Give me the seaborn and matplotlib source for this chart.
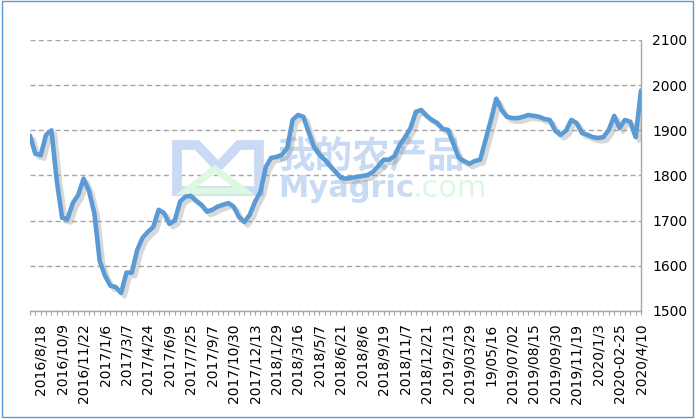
import pandas as pd
import seaborn as sns
import matplotlib.pyplot as plt
from matplotlib import patheffects as pe
from matplotlib.patches import Polygon, Rectangle
from matplotlib.ticker import MultipleLocator

# tick labels (one every 4 points)
dates = ['2016/8/18', '2016/10/9', '2016/11/22', '2017/1/6', '2017/3/7', '2017/4/24',
         '2017/6/9', '2017/7/25', '2017/9/7', '2017/10/30', '2017/12/13', '2018/1/29',
         '2018/3/16', '2018/5/7', '2018/6/21', '2018/8/6', '2018/9/19', '2018/11/7',
         '2018/12/21', '2019/2/13', '2019/03/29', '19/05/16', '2019/07/02', '2019/08/15',
         '2019/09/30', '2019/11/19', '2020/1/3', '2020-02-25', '2020/4/10']

# price series
price = [1888, 1848, 1845, 1890, 1900, 1788, 1706, 1704, 1739, 1757,
         1793, 1766, 1717, 1611, 1578, 1556, 1553, 1540, 1585, 1585,
         1635, 1662, 1675, 1686, 1724, 1717, 1693, 1700, 1742, 1753,
         1755, 1744, 1735, 1720, 1724, 1731, 1735, 1739, 1731, 1708,
         1697, 1713, 1742, 1764, 1819, 1839, 1841, 1846, 1861, 1923,
         1934, 1930, 1896, 1863, 1846, 1835, 1821, 1808, 1795, 1793,
         1795, 1797, 1799, 1801, 1808, 1821, 1835, 1835, 1843, 1868,
         1885, 1905, 1941, 1945, 1932, 1923, 1916, 1903, 1901, 1870,
         1839, 1832, 1826, 1832, 1835, 1879, 1923, 1970, 1945, 1930,
         1927, 1927, 1930, 1934, 1932, 1930, 1925, 1923, 1899, 1890,
         1899, 1923, 1916, 1894, 1890, 1885, 1883, 1885, 1901, 1932,
         1905, 1923, 1919, 1885, 1988]

df = pd.DataFrame({'idx': range(len(price)), 'price': price})

sns.set_theme(style='white')
plt.rcParams['font.family'] = ['DejaVu Sans', 'Noto Sans CJK SC']

W, H = 696, 419
fig = plt.figure(figsize=(W / 100, H / 100), dpi=100)
ax = fig.add_axes([30 / W, 1 - 311 / H, 611 / W, 271 / H])

sns.lineplot(data=df, x='idx', y='price', ax=ax, color='#5B9BD5', linewidth=3.3, zorder=3)
ax.lines[0].set_path_effects([
    pe.SimpleLineShadow(offset=(2.5, -2.5), shadow_color='#808080', alpha=0.3),
    pe.Normal()])

ax.set_xlim(0, len(price) - 1)
ax.set_ylim(1500, 2100)
ax.set_xticks(range(2, len(price), 4))
ax.set_xticklabels(dates, rotation=90)
ax.xaxis.set_minor_locator(MultipleLocator(1))
ax.tick_params(axis='x', which='both', direction='out', length=3, width=0.8,
               color='#A6A6A6', bottom=True)
ax.tick_params(axis='x', which='major', pad=6, labelsize=10, labelcolor='black')

ax.yaxis.tick_right()
ax.set_yticks(range(1500, 2101, 100))
ax.tick_params(axis='y', length=0, pad=8, labelsize=10, labelcolor='black')

ax.grid(axis='y', linestyle=(0, (3.6, 2.4)), color='#A6A6A6', linewidth=1)
ax.set_axisbelow(True)
for s in ['top', 'left']:
    ax.spines[s].set_visible(False)
for s in ['bottom', 'right']:
    ax.spines[s].set_color('#A6A6A6')
    ax.spines[s].set_linewidth(1)
ax.set_xlabel('')
ax.set_ylabel('')


# watermark (pixel -> figure fraction)
def fp(x, y):
    return (x / W, 1 - y / H)


logo = Polygon([fp(177, 145), fp(197, 145), fp(218, 167), fp(239, 145), fp(259, 145),
                fp(259, 191), fp(177, 191)], closed=True, fill=False,
               edgecolor='#C9DAF4', linewidth=7, transform=fig.transFigure, zorder=1)
roof = Polygon([fp(186, 191), fp(215, 169), fp(244, 191)], closed=True, fill=False,
               edgecolor='#DDF8E0', linewidth=5, transform=fig.transFigure, zorder=1)
ax.add_patch(logo)
ax.add_patch(roof)
ax.text(*fp(278, 156), '我的农产品', transform=fig.transFigure, fontsize=27,
        family=['Noto Sans CJK SC'], fontweight='bold', color='#C9DAF4',
        ha='left', va='center', zorder=1)
ax.text(*fp(278, 197), 'Myagric', transform=fig.transFigure, fontsize=22, fontweight='bold',
        color='#C9DAF4', ha='left', va='baseline', zorder=1)
ax.text(*fp(413, 197), '.com', transform=fig.transFigure, fontsize=22,
        color='#DDF8E0', ha='left', va='baseline', zorder=1)

fig.patches.append(Rectangle((1.5 / W, 2 / H), 691.5 / W, 416 / H, fill=False,
                             edgecolor='#5B9BD5', linewidth=1, transform=fig.transFigure))

fig.savefig('out.png', dpi=100)
